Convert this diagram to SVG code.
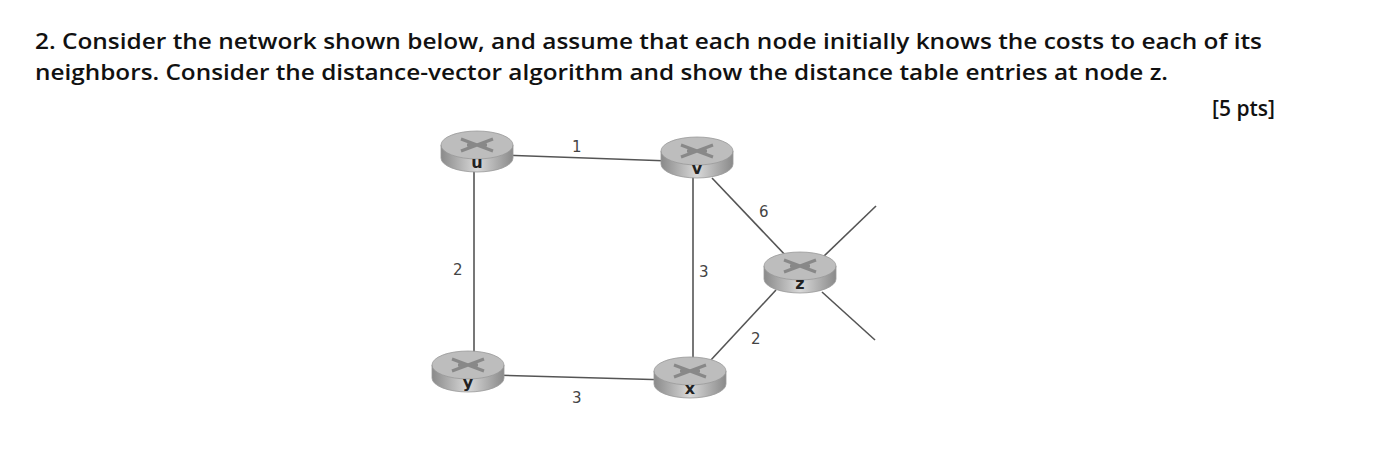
<svg xmlns="http://www.w3.org/2000/svg" width="1390" height="450" viewBox="0 0 1390 450">
<style>
.t{font-family:"Open Sans","Liberation Sans",sans-serif;font-size:21px;font-weight:600;fill:#111}
.l{stroke:#555;stroke-width:1.6;fill:none}
.c{font-family:"DejaVu Sans",sans-serif;font-size:15px;fill:#444}
.n{font-family:"DejaVu Sans",sans-serif;font-size:16px;font-weight:bold;fill:#222;text-anchor:middle}
</style>
<defs>
<linearGradient id="g" x1="0" y1="0" x2="1" y2="0">
<stop offset="0" stop-color="#8a8a8a"/><stop offset="0.5" stop-color="#d8d8d8"/><stop offset="1" stop-color="#8a8a8a"/>
</linearGradient>
<g id="r">
<path d="M-36,0 v13 a36,14 0 0 0 72,0 v-13 z" fill="url(#g)" stroke="#999" stroke-width="0.8"/>
<ellipse cx="0" cy="0" rx="36" ry="14" fill="#bdbdbd" stroke="#999" stroke-width="0.8"/>
<path d="M-16,-6 L16,6 M-16,6 L16,-6 M-10,0 H10" stroke="#888" stroke-width="3" fill="none"/>
</g>
</defs>
<rect width="1390" height="450" fill="#fff"/>
<text class="t" x="35" y="49" textLength="1227" lengthAdjust="spacingAndGlyphs">2. Consider the network shown below, and assume that each node initially knows the costs to each of its</text>
<text class="t" x="35" y="80" textLength="1133" lengthAdjust="spacingAndGlyphs">neighbors. Consider the distance-vector algorithm and show the distance table entries at node z.</text>
<text class="t" x="1275" y="116" text-anchor="end">[5 pts]</text>
<g id="connectors">
<line class="l" x1="500" y1="155" x2="670" y2="161"/>
<line class="l" x1="474" y1="160" x2="474" y2="365"/>
<line class="l" x1="693" y1="165" x2="693" y2="372"/>
<line class="l" x1="712" y1="178" x2="788" y2="258"/>
<line class="l" x1="710" y1="361" x2="776" y2="290"/>
<line class="l" x1="822" y1="258" x2="876" y2="206"/>
<line class="l" x1="822" y1="292" x2="875" y2="340"/>
<line class="l" x1="490" y1="375" x2="670" y2="380"/>
<text class="c" x="572" y="152">1</text>
<text class="c" x="453" y="275">2</text>
<text class="c" x="699" y="277">3</text>
<text class="c" x="759" y="217">6</text>
<text class="c" x="751" y="344">2</text>
<text class="c" x="572" y="403">3</text>
</g>
<g id="u"><use href="#r" x="477" y="145"/><text class="n" x="477" y="168">u</text></g>
<g id="v"><use href="#r" x="697" y="151"/><text class="n" x="697" y="174">v</text></g>
<g id="z"><use href="#r" x="800" y="266"/><text class="n" x="800" y="289">z</text></g>
<g id="y"><use href="#r" x="468" y="365"/><text class="n" x="468" y="388">y</text></g>
<g id="x"><use href="#r" x="690" y="371"/><text class="n" x="690" y="394">x</text></g>
</svg>
